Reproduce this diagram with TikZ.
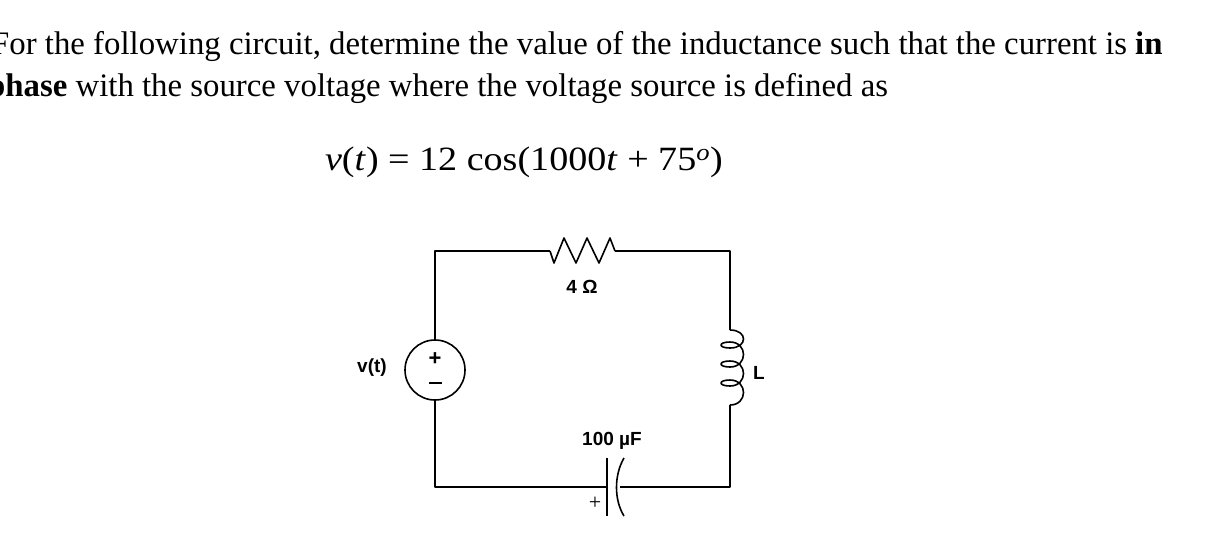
\documentclass[tikz,border=0pt]{standalone}
\usepackage{fontspec}
\setmainfont{Liberation Serif}
\setsansfont{Liberation Sans}
\begin{document}
\begin{tikzpicture}[x=1pt,y=-1pt,
  wire/.style={line width=1.6pt,line join=round},
  lbl/.style={font=\sffamily\bfseries\fontsize{19}{21}\selectfont,inner sep=0pt}]
\useasboundingbox (0,0) rectangle (1212,550);
\clip (0,0) rectangle (1212,550);
\node[anchor=base west,inner sep=0pt,font=\fontsize{32.8}{36}\selectfont] (t1) at (-9,54) {For the following circuit, determine the value of the inductance such that the current is \textbf{in}};
\node[anchor=base west,inner sep=0pt,font=\fontsize{32.8}{36}\selectfont] (t2) at (-13,96) {\textbf{phase} with the source voltage where the voltage source is defined as};
\node[anchor=base,inner sep=0pt,font=\fontsize{34}{40}\selectfont] (eq) at (524,170) {\scalebox{1.12}[1]{\textit{v}(\textit{t}) = 12 cos(1000\textit{t} + 75\textsuperscript{\textit{o}})}};
% corners
\coordinate (tl) at (435,251);
\coordinate (tr) at (730,251);
\coordinate (br) at (730,487);
\coordinate (bl) at (435,487);
\node[circle,draw,line width=1.6pt,minimum size=60pt,inner sep=0pt] (src) at (435,370) {};
\node[font=\sffamily\bfseries\fontsize{22}{22}\selectfont,inner sep=0pt] at (435,359) {+};
\draw[line width=1.6pt] (429,383) -- (442,383);
\coordinate (r1) at (550,251);
\coordinate (r2) at (615,251);
\coordinate (l1) at (730,330);
\coordinate (l2) at (730,405);
\coordinate (c1) at (607,487);
\coordinate (c2) at (620,487);
\draw[wire] (src.north) -- (tl) -- (r1);
\draw[wire] (r1) -- (554,263) -- (564,238) -- (576,263) -- (587,238) -- (599,263) -- (610,238) -- (r2);
\draw[wire] (r2) -- (tr) -- (l1);
\draw[wire] (l1) .. controls (748,330) and (748,348) .. (730,348)
  .. controls (718,348) and (718,342) .. (730,342)
  .. controls (748,342) and (748,367) .. (730,367)
  .. controls (718,367) and (718,361) .. (730,361)
  .. controls (748,361) and (748,386) .. (730,386)
  .. controls (718,386) and (718,380) .. (730,380)
  .. controls (748,380) and (748,405) .. (l2);
\draw[wire] (l2) -- (br) -- (c2);
\draw[wire] (c1) -- (bl) -- (src.south);
\draw[line width=1.8pt] (607,458) -- (607,516);
\draw[line width=1.6pt] (624,458) .. controls (614,475) and (614,500) .. (624,516);
\node[font=\fontsize{22}{22}\selectfont,inner sep=0pt] at (595,503) {+};
\node[lbl] (rl) at (582,287) {4 Ω};
\node[lbl] (cl) at (612,441) {100 µF};
\node[lbl] (ll) at (759,373) {L};
\node[lbl] (vl) at (372,368) {v(t)};
\end{tikzpicture}
\end{document}
